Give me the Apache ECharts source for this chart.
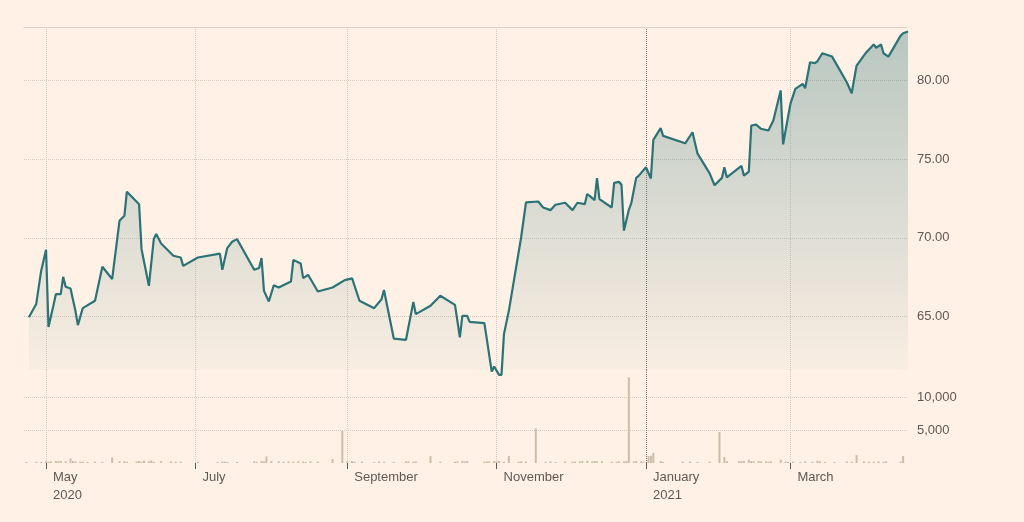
<!DOCTYPE html>
<html>
<head>
<meta charset="utf-8">
<script src="https://cdn.jsdelivr.net/npm/echarts@6/dist/echarts.min.js"></script>
<style>
  html, body { margin: 0; padding: 0; background: #fff1e5; }
  #chart { width: 1024px; height: 522px; }
</style>
</head>
<body>
<div id="chart"></div>
<script>
// price line (closing price, by date)
const priceDates = [
  '2020-04-24','2020-04-27','2020-04-29','2020-05-01','2020-05-02','2020-05-04','2020-05-05','2020-05-07',
  '2020-05-08','2020-05-09','2020-05-11','2020-05-13','2020-05-14','2020-05-16','2020-05-21','2020-05-24',
  '2020-05-28','2020-05-31','2020-06-02','2020-06-03','2020-06-08','2020-06-09','2020-06-12','2020-06-14',
  '2020-06-15','2020-06-17','2020-06-22','2020-06-25','2020-06-26','2020-07-02','2020-07-11','2020-07-12',
  '2020-07-14','2020-07-16','2020-07-18','2020-07-25','2020-07-27','2020-07-28','2020-07-29','2020-07-31',
  '2020-08-02','2020-08-04','2020-08-09','2020-08-10','2020-08-13','2020-08-14','2020-08-16','2020-08-20',
  '2020-08-26','2020-08-31','2020-09-03','2020-09-06','2020-09-12','2020-09-15','2020-09-16','2020-09-20',
  '2020-09-25','2020-09-28','2020-09-29','2020-10-05','2020-10-09','2020-10-15','2020-10-17','2020-10-18',
  '2020-10-20','2020-10-21','2020-10-27','2020-10-28','2020-10-30','2020-10-31','2020-11-02','2020-11-03',
  '2020-11-04','2020-11-06','2020-11-11','2020-11-13','2020-11-18','2020-11-20','2020-11-23','2020-11-25',
  '2020-11-29','2020-12-02','2020-12-04','2020-12-07','2020-12-08','2020-12-09','2020-12-11','2020-12-12',
  '2020-12-13','2020-12-18','2020-12-19','2020-12-21','2020-12-22','2020-12-23','2020-12-25','2020-12-26',
  '2020-12-28','2020-12-29','2021-01-01','2021-01-03','2021-01-04','2021-01-07','2021-01-08','2021-01-17',
  '2021-01-20','2021-01-22','2021-01-27','2021-01-29','2021-02-01','2021-02-02','2021-02-03','2021-02-09',
  '2021-02-10','2021-02-12','2021-02-13','2021-02-15','2021-02-17','2021-02-20','2021-02-22','2021-02-25',
  '2021-02-26','2021-02-28','2021-03-01','2021-03-03','2021-03-06','2021-03-07','2021-03-09','2021-03-11',
  '2021-03-12','2021-03-14','2021-03-18','2021-03-24','2021-03-26','2021-03-28','2021-04-01','2021-04-04',
  '2021-04-05','2021-04-07','2021-04-08','2021-04-10','2021-04-15','2021-04-16','2021-04-18'
];
const priceValues = [
  64.95, 65.80, 67.90, 69.24, 64.34, 65.68, 66.42, 66.42,
  67.52, 66.89, 66.78, 65.36, 64.45, 65.53, 66.00, 68.16,
  67.38, 71.08, 71.40, 72.93, 72.14, 69.28, 66.95, 69.92,
  70.24, 69.64, 68.86, 68.75, 68.22, 68.75, 69.00, 67.97,
  69.35, 69.75, 69.92, 67.97, 68.08, 68.71, 66.63, 65.95,
  66.99, 66.84, 67.22, 68.60, 68.37, 67.44, 67.65, 66.59,
  66.84, 67.31, 67.42, 66.00, 65.53, 66.10, 66.68, 63.60,
  63.52, 65.93, 65.15, 65.68, 66.32, 65.74, 63.67, 65.04,
  65.04, 64.66, 64.58, 63.56, 61.50, 61.82, 61.29, 61.29,
  63.88, 65.36, 70.02, 72.25, 72.31, 71.93, 71.76, 72.10,
  72.23, 71.76, 72.23, 72.14, 72.78, 72.67, 72.40, 73.80,
  72.46, 71.93, 73.49, 73.56, 73.37, 70.46, 71.78, 72.20,
  73.81, 73.94, 74.49, 73.77, 76.23, 76.97, 76.48, 76.01,
  76.71, 75.37, 74.10, 73.34, 73.81, 74.49, 73.85, 74.57,
  73.95, 74.21, 77.14, 77.20, 76.93, 76.82, 77.46, 79.37,
  75.94, 77.68, 78.53, 79.47, 79.79, 79.51, 81.16, 81.10,
  81.22, 81.73, 81.52, 79.89, 79.19, 80.95, 81.80, 82.29,
  82.08, 82.29, 81.73, 81.52, 82.85, 83.00, 83.11
];

// traded volume
const volumeDates = [
  '2020-04-23','2020-04-27','2020-04-29','2020-05-01','2020-05-02','2020-05-03','2020-05-05','2020-05-06',
  '2020-05-07','2020-05-09','2020-05-11','2020-05-12','2020-05-13','2020-05-15','2020-05-16','2020-05-18',
  '2020-05-21','2020-05-24','2020-05-28','2020-05-31','2020-06-02','2020-06-03','2020-06-07','2020-06-08',
  '2020-06-09','2020-06-10','2020-06-12','2020-06-13','2020-06-14','2020-06-17','2020-06-21','2020-06-23',
  '2020-06-25','2020-07-02','2020-07-10','2020-07-12','2020-07-13','2020-07-14','2020-07-18','2020-07-25',
  '2020-07-26','2020-07-28','2020-07-29','2020-07-30','2020-08-01','2020-08-04','2020-08-06','2020-08-08',
  '2020-08-10','2020-08-12','2020-08-14','2020-08-15','2020-08-17','2020-08-20','2020-08-26','2020-08-30',
  '2020-09-01','2020-09-03','2020-09-04','2020-09-07','2020-09-12','2020-09-14','2020-09-16','2020-09-20',
  '2020-09-25','2020-09-26','2020-09-28','2020-09-29','2020-10-05','2020-10-09','2020-10-15','2020-10-16',
  '2020-10-18','2020-10-19','2020-10-20','2020-10-27','2020-10-28','2020-10-29','2020-10-31','2020-11-01',
  '2020-11-02','2020-11-04','2020-11-06','2020-11-10','2020-11-11','2020-11-13','2020-11-17','2020-11-21',
  '2020-11-23','2020-11-25','2020-11-29','2020-12-02','2020-12-03','2020-12-05','2020-12-06','2020-12-08',
  '2020-12-10','2020-12-11','2020-12-12','2020-12-14','2020-12-18','2020-12-20','2020-12-21','2020-12-23',
  '2020-12-24','2020-12-25','2020-12-27','2020-12-28','2020-12-30','2020-12-31','2021-01-02','2021-01-03',
  '2021-01-04','2021-01-07','2021-01-08','2021-01-16','2021-01-19','2021-01-22','2021-01-27','2021-01-31',
  '2021-02-02','2021-02-03','2021-02-08','2021-02-09','2021-02-10','2021-02-12','2021-02-13','2021-02-14',
  '2021-02-16','2021-02-17','2021-02-19','2021-02-20','2021-02-21','2021-02-25','2021-02-27','2021-02-28',
  '2021-03-02','2021-03-05','2021-03-07','2021-03-10','2021-03-12','2021-03-13','2021-03-15','2021-03-19',
  '2021-03-24','2021-03-26','2021-03-28','2021-03-31','2021-04-02','2021-04-04','2021-04-06','2021-04-08',
  '2021-04-09','2021-04-15','2021-04-16'
];
const volumeValues = [
  150, 200, 150, 250, 200, 250, 300, 250,
  300, 250, 700, 300, 250, 200, 200, 150,
  200, 150, 850, 250, 250, 200, 250, 300,
  200, 350, 250, 400, 200, 300, 250, 200,
  200, 200, 150, 200, 200, 150, 150, 250,
  200, 300, 250, 1000, 300, 250, 200, 250,
  200, 250, 200, 150, 250, 200, 600, 4850,
  250, 300, 200, 200, 150, 250, 200, 150,
  250, 250, 200, 250, 1050, 200, 200, 250,
  300, 250, 300, 200, 250, 250, 300, 250,
  300, 200, 1050, 200, 250, 200, 5250, 200,
  250, 150, 250, 200, 200, 250, 300, 350,
  250, 300, 250, 250, 200, 200, 250, 250,
  300, 13000, 250, 300, 250, 200, 1050, 1100,
  1550, 300, 200, 200, 200, 150, 200, 4700,
  900, 300, 250, 300, 300, 500, 300, 250,
  300, 250, 250, 200, 250, 500, 200, 150,
  200, 150, 250, 200, 350, 250, 150, 150,
  250, 200, 1200, 250, 200, 200, 250, 200,
  250, 250, 1050
];

// x axis ticks
const monthTicks = ['2020-05-01', '2020-07-01', '2020-09-01', '2020-11-01', '2021-01-01', '2021-03-01'];
const monthLabels = ['May\n2020', 'July', 'September', 'November', 'January\n2021', 'March'];
const priceTicks = [65, 70, 75, 80];
const volumeTicks = [5000, 10000];

const ts = d => +echarts.time.parse(d);
const tickTimes = monthTicks.map(ts);
const gridColor = '#d6cbc0';
const yearColor = '#7d7873';
const textColor = '#5f5955';
const font = { fontFamily: 'Liberation Sans, Arial, sans-serif', fontSize: 13, color: textColor };

const chart = echarts.init(document.getElementById('chart'), null, { renderer: 'canvas' });

// dates are placed on a value axis in milliseconds so the month ticks can be fixed
const xBase = {
  type: 'value',
  min: ts('2020-04-22'),
  max: ts('2021-04-18'),
  splitLine: {
    show: true,
    lineStyle: { type: 'dotted', width: 1, color: [gridColor, gridColor, gridColor, gridColor, yearColor, gridColor] }
  }
};

chart.setOption({
  backgroundColor: '#fff1e5',
  animation: false,
  grid: [
    { left: 24, right: 116, top: 27, height: 343, outerBoundsMode: 'none' },
    { left: 24, right: 116, top: 370, height: 93, outerBoundsMode: 'none' }
  ],
  xAxis: [
    Object.assign({}, xBase, {
      gridIndex: 0,
      position: 'top',
      axisLine: { show: true, lineStyle: { type: 'dotted', color: gridColor } },
      axisTick: { show: false, customValues: tickTimes },
      axisLabel: { show: false, customValues: tickTimes }
    }),
    Object.assign({}, xBase, {
      gridIndex: 1,
      axisLine: { show: false },
      axisTick: { show: true, length: 6, customValues: tickTimes, lineStyle: { color: textColor } },
      axisLabel: Object.assign({}, font, {
        customValues: tickTimes,
        align: 'left',
        padding: [0, 0, 0, 7],
        margin: 5,
        lineHeight: 18,
        formatter: v => monthLabels[tickTimes.indexOf(v)] || ''
      })
    })
  ],
  yAxis: [
    {
      type: 'value', gridIndex: 0, position: 'right',
      min: 61.6, max: 83.4,
      axisLine: { show: false },
      axisTick: { show: false, customValues: priceTicks },
      axisLabel: Object.assign({}, font, { customValues: priceTicks, margin: 9, formatter: v => v.toFixed(2) }),
      splitLine: { show: true, lineStyle: { type: 'dotted', color: gridColor } }
    },
    {
      type: 'value', gridIndex: 1, position: 'right',
      min: 0, max: 14100,
      axisLine: { show: false },
      axisTick: { show: false, customValues: volumeTicks },
      axisLabel: Object.assign({}, font, { customValues: volumeTicks, margin: 9, formatter: v => v.toLocaleString('en-US') }),
      splitLine: { show: true, lineStyle: { type: 'dotted', color: gridColor } }
    }
  ],
  series: [
    {
      type: 'line',
      xAxisIndex: 0, yAxisIndex: 0,
      data: priceDates.map((d, i) => [ts(d), priceValues[i]]),
      symbol: 'none',
      clip: false,
      lineStyle: { color: '#2b7377', width: 2.2 },
      itemStyle: { color: '#2b7377' },
      areaStyle: {
        color: {
          type: 'linear', x: 0, y: 0, x2: 0, y2: 1,
          colorStops: [
            { offset: 0, color: 'rgba(43,115,119,0.48)' },
            { offset: 1, color: 'rgba(43,115,119,0.03)' }
          ]
        }
      }
    },
    {
      type: 'bar',
      xAxisIndex: 1, yAxisIndex: 1,
      data: volumeDates.map((d, i) => [ts(d), volumeValues[i]]),
      barWidth: 2,
      itemStyle: { color: '#cdbca9' }
    }
  ]
});
</script>
</body>
</html>
